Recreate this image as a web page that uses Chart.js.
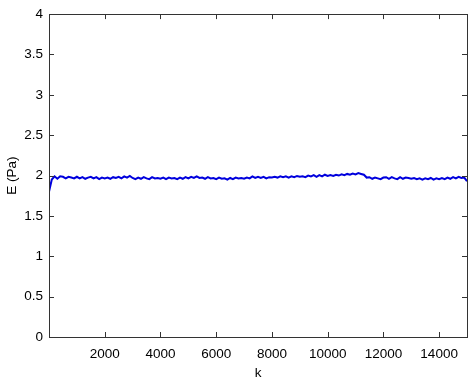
<!DOCTYPE html>
<html>
<head>
<meta charset="utf-8">
<script src="https://cdn.jsdelivr.net/npm/chart.js@4/dist/chart.umd.min.js"></script>
<style>
  html, body { margin: 0; padding: 0; background: #fff; }
  #wrap { width: 474px; height: 381px; }
</style>
</head>
<body>
<div id="wrap"><canvas id="chart" width="474" height="381"></canvas></div>
<script>
// ---------- DATA ----------
const kValues = [
  0, 100, 200, 300, 400, 500, 600, 700, 800, 900,
  1000, 1100, 1200, 1300, 1400, 1500, 1600, 1700, 1800, 1900,
  2000, 2100, 2200, 2300, 2400, 2500, 2600, 2700, 2800, 2900,
  3000, 3100, 3200, 3300, 3400, 3500, 3600, 3700, 3800, 3900,
  4000, 4100, 4200, 4300, 4400, 4500, 4600, 4700, 4800, 4900,
  5000, 5100, 5200, 5300, 5400, 5500, 5600, 5700, 5800, 5900,
  6000, 6100, 6200, 6300, 6400, 6500, 6600, 6700, 6800, 6900,
  7000, 7100, 7200, 7300, 7400, 7500, 7600, 7700, 7800, 7900,
  8000, 8100, 8200, 8300, 8400, 8500, 8600, 8700, 8800, 8900,
  9000, 9100, 9200, 9300, 9400, 9500, 9600, 9700, 9800, 9900,
  10000, 10100, 10200, 10300, 10400, 10500, 10600, 10700, 10800, 10900,
  11000, 11100, 11200, 11300, 11400, 11500, 11600, 11700, 11800, 11900,
  12000, 12100, 12200, 12300, 12400, 12500, 12600, 12700, 12800, 12900,
  13000, 13100, 13200, 13300, 13400, 13500, 13600, 13700, 13800, 13900,
  14000, 14100, 14200, 14300, 14400, 14500, 14600, 14700, 14800, 14900,
  15000
];

const eValues = [
  1.80, 1.95, 1.99, 1.96, 1.99, 1.985, 1.965, 1.985, 1.975, 1.965,
  1.985, 1.965, 1.98, 1.96, 1.975, 1.985, 1.965, 1.98, 1.955, 1.975,
  1.965, 1.975, 1.96, 1.98, 1.97, 1.985, 1.965, 1.99, 1.975, 1.995,
  1.97, 1.955, 1.975, 1.96, 1.98, 1.965, 1.955, 1.98, 1.965, 1.97,
  1.96, 1.975, 1.955, 1.975, 1.965, 1.97, 1.955, 1.975, 1.96, 1.98,
  1.965, 1.985, 1.97, 1.99, 1.97, 1.975, 1.96, 1.98, 1.965, 1.97,
  1.955, 1.975, 1.96, 1.965, 1.95, 1.97, 1.955, 1.975, 1.965, 1.97,
  1.96, 1.975, 1.965, 1.99, 1.97, 1.985, 1.97, 1.985, 1.965, 1.98,
  1.975, 1.985, 1.975, 1.99, 1.98, 1.99, 1.975, 1.99, 1.98, 1.995,
  1.985, 1.99, 1.98, 2.0, 1.99, 2.005, 1.985, 2.005, 1.99, 2.01,
  1.995, 2.005, 1.995, 2.01, 2.0, 2.015, 2.005, 2.02, 2.01, 2.025,
  2.015, 2.03, 2.02, 2.01, 1.975, 1.98, 1.96, 1.975, 1.965, 1.955,
  1.975, 1.98, 1.96, 1.98, 1.965, 1.955, 1.98, 1.96, 1.975, 1.97,
  1.96, 1.97, 1.955, 1.965, 1.95, 1.965, 1.955, 1.97, 1.95, 1.965,
  1.955, 1.97, 1.955, 1.975, 1.96, 1.98, 1.965, 1.985, 1.97, 1.975,
  1.93
];

const xTicks = [2000, 4000, 6000, 8000, 10000, 12000, 14000];
const xTickLabels = ["2000", "4000", "6000", "8000", "10000", "12000", "14000"];
const yTicks = [0, 0.5, 1, 1.5, 2, 2.5, 3, 3.5, 4];
const yTickLabels = ["0", "0.5", "1", "1.5", "2", "2.5", "3", "3.5", "4"];

// ---------- MATLAB STYLE BOX + INWARD TICKS ----------
const boxPlugin = {
  id: "box",
  afterDraw(chart) {
    const ctx = chart.ctx;
    const a = chart.chartArea;
    const xs = chart.scales.x;
    const ys = chart.scales.y;
    const len = 5;
    ctx.save();
    ctx.strokeStyle = "#333";
    ctx.lineWidth = 1;
    ctx.strokeRect(Math.round(a.left) + 0.5, Math.round(a.top) + 0.5,
      Math.round(a.right - a.left), Math.round(a.bottom - a.top));
    ctx.beginPath();
    xTicks.forEach(v => {
      const px = Math.round(xs.getPixelForValue(v)) + 0.5;
      ctx.moveTo(px, a.bottom); ctx.lineTo(px, a.bottom - len);
      ctx.moveTo(px, a.top); ctx.lineTo(px, a.top + len);
    });
    yTicks.forEach(v => {
      const py = Math.round(ys.getPixelForValue(v)) + 0.5;
      ctx.moveTo(a.left, py); ctx.lineTo(a.left + len, py);
      ctx.moveTo(a.right, py); ctx.lineTo(a.right - len, py);
    });
    ctx.stroke();
    ctx.restore();
  }
};

// ---------- CHART ----------
const font = { family: "'Liberation Sans', Arial, sans-serif", size: 13.5 };

new Chart(document.getElementById("chart"), {
  type: "line",
  data: {
    datasets: [{
      data: kValues.map((k, i) => ({ x: k, y: eValues[i] })),
      borderColor: "#0000dd",
      borderWidth: 2,
      pointRadius: 0,
      tension: 0,
      fill: false
    }]
  },
  options: {
    responsive: false,
    animation: false,
    layout: { padding: { top: 6, right: 7, left: 0, bottom: 0 } },
    plugins: { legend: { display: false }, tooltip: { enabled: false } },
    scales: {
      x: {
        type: "linear",
        min: 0,
        max: 15000,
        grid: { display: false, drawTicks: false },
        border: { display: false },
        afterBuildTicks: s => { s.ticks = xTicks.map(v => ({ value: v })); },
        afterFit: s => { s.height = 44; },
        ticks: {
          color: "#000",
          font: font,
          padding: 9,
          maxRotation: 0,
          autoSkip: false,
          callback: (v) => xTickLabels[xTicks.indexOf(v)]
        },
        title: { display: true, text: "k", color: "#000", font: font, padding: { top: 0, bottom: 0 } }
      },
      y: {
        min: 0,
        max: 4,
        grid: { display: false, drawTicks: false },
        border: { display: false },
        afterBuildTicks: s => { s.ticks = yTicks.map(v => ({ value: v })); },
        afterFit: s => { s.width = 49; },
        ticks: {
          color: "#000",
          font: font,
          padding: 6,
          autoSkip: false,
          callback: (v) => yTickLabels[yTicks.indexOf(v)]
        },
        title: { display: true, text: "E (Pa)", color: "#000", font: font, padding: { top: 4, bottom: 0 } }
      }
    }
  },
  plugins: [boxPlugin]
});
</script>
</body>
</html>
